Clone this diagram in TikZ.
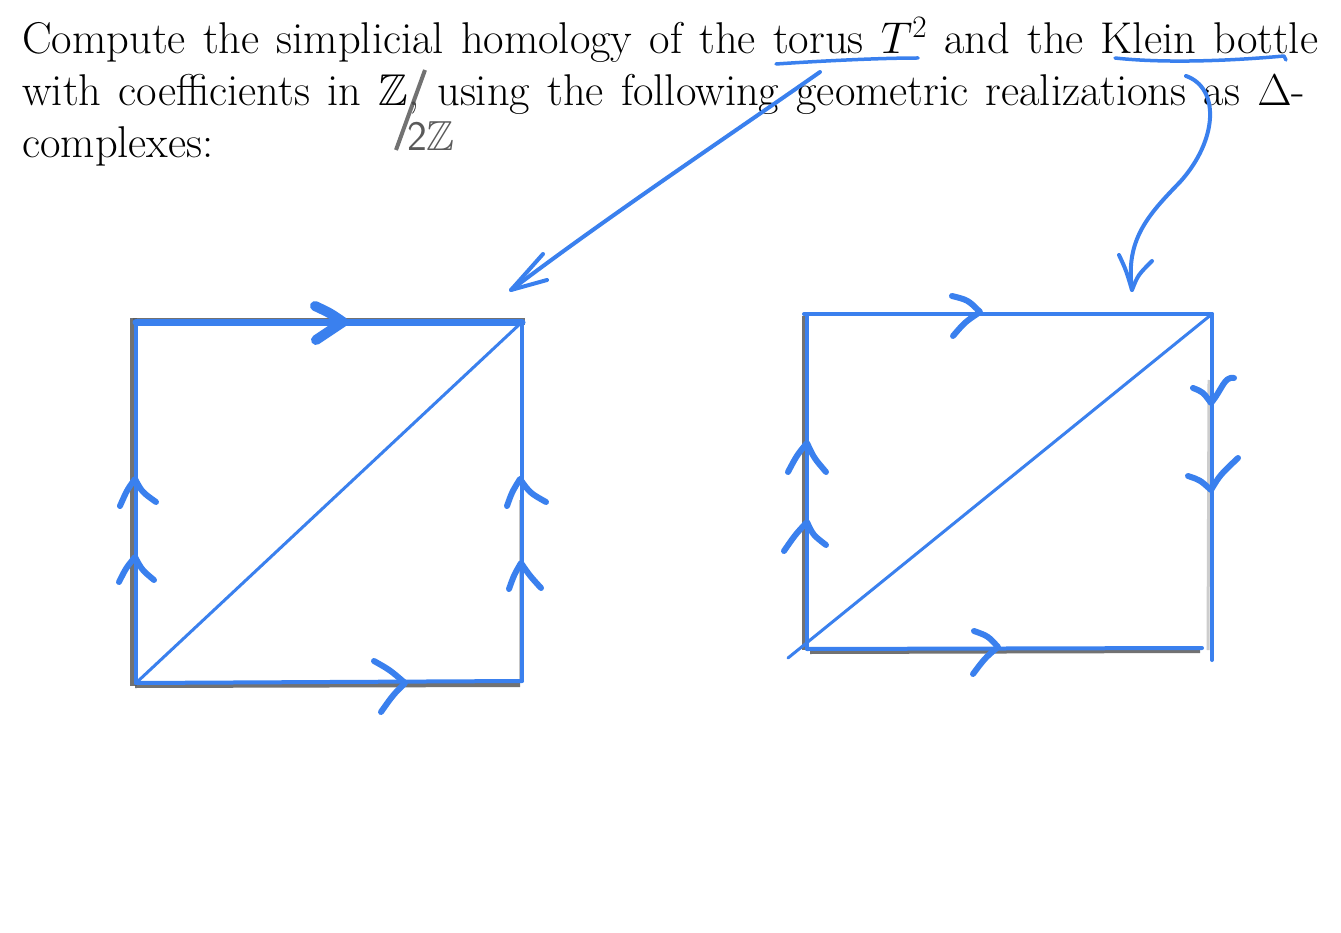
\RequirePackage{fix-cm}
\documentclass[tikz,border=0pt]{standalone}
\usepackage{amssymb}
\definecolor{pen}{RGB}{58,128,238}
\definecolor{pencil}{RGB}{90,90,90}
\tikzset{
  x=1pt,y=-1pt,
  txt/.style={anchor=base west,inner sep=0pt,font=\fontsize{44.5}{52}\selectfont},
  edge/.style={draw=pen,line width=4pt,line cap=round},
  diag/.style={draw=pen,line width=3pt,line cap=round},
  head/.style={draw=pen,line width=6pt,line cap=round,line join=round},
  ink/.style={draw=pen,line width=4pt,line cap=round,line join=round},
  graph/.style={draw=pencil,line width=7pt,opacity=0.85},
}
\begin{document}
\begin{tikzpicture}
\useasboundingbox[fill=white] (0,0) rectangle (1341,933);
% text
\node[txt] (l1) at (22,54) {\makebox[1296pt][s]{Compute the simplicial homology of the torus $T^2$ and the Klein bottle}};
\node[txt] (l2) at (22,106) {\makebox[1283pt][s]{with coefficients in $\mathbb{Z}$, using the following geometric realizations as $\Delta$-}};
\node[txt] (l3) at (22,158) {complexes:};
% handwritten /2Z
\coordinate (s1) at (425,70);
\coordinate (s2) at (396,150);
\draw[draw=pencil,line width=4pt,opacity=0.85] (s1) -- (s2);
\node[anchor=base west,inner sep=0pt,text=pencil,font=\fontsize{42}{42}\selectfont\sffamily] (zz) at (407,151) {2$\mathbb{Z}$};
% torus
\coordinate (ta) at (136,322);
\coordinate (tb) at (522,322);
\coordinate (tc) at (136,683);
\coordinate (td) at (522,681);
\draw[graph] (133,318) -- (133,686);
\draw[graph] (133,321) -- (525,321);
\draw[graph,line width=6pt] (135,685) -- (520,684);
\draw[graph,line width=3pt,opacity=0.35] (520,500) -- (520,680);
\draw[edge,line width=7pt] (ta) -- (tb);
\draw[edge] (ta) -- (tc);
\draw[edge] (tc) -- (td);
\draw[edge] (tb) -- (td);
\draw[diag] (tc) -- (tb);
\draw[head,line width=10pt] (315,306) .. controls (330,313) .. (343,322) .. controls (330,331) .. (316,340);
\draw[head] (374,661) .. controls (390,670) .. (405,683) .. controls (393,695) .. (381,712);
\draw[head] (120,506) .. controls (127,490) .. (135,479) .. controls (142,492) .. (156,502);
\draw[head] (119,582) .. controls (126,568) .. (135,557) .. controls (142,570) .. (154,580);
\draw[head] (507,506) .. controls (512,492) .. (520,479) .. controls (530,493) .. (546,502);
\draw[head] (509,589) .. controls (514,575) .. (521,563) .. controls (530,576) .. (541,588);
% klein bottle
\coordinate (ka) at (804,314);
\coordinate (kb) at (1212,314);
\coordinate (kc) at (807,649);
\coordinate (kd) at (1202,648);
\coordinate (ke) at (1212,660);
\coordinate (kf) at (788,658);
\draw[graph] (805,316) -- (805,650);
\draw[graph,line width=6pt] (810,651) -- (1200,650);
\draw[graph,line width=3pt,opacity=0.3] (1209,380) -- (1208,650);
\draw[edge] (ka) -- (kb);
\draw[edge] (807,314) -- (kc);
\draw[edge] (kc) -- (kd);
\draw[edge] (kb) -- (ke);
\draw[diag] (kf) -- (kb);
\draw[head] (952,296) .. controls (968,300) .. (980,312) .. controls (965,322) .. (953,336);
\draw[head] (974,631) .. controls (988,636) .. (998,647) .. controls (985,658) .. (973,674);
\draw[head] (788,472) .. controls (797,455) .. (807,443) .. controls (814,458) .. (826,472);
\draw[head] (784,551) .. controls (795,535) .. (807,522) .. controls (813,535) .. (826,545);
\draw[head] (1193,388) .. controls (1203,392) .. (1211,403) .. controls (1222,390) and (1224,376) .. (1234,378);
\draw[head] (1188,476) .. controls (1200,480) .. (1211,490) .. controls (1220,475) .. (1238,458);
% annotations
\coordinate (u1) at (776,64);
\coordinate (u2) at (918,58);
\draw[ink,line width=3.5pt] (u1) .. controls (820,61) and (880,58) .. (u2);
\coordinate (a1) at (820,72);
\coordinate (a2) at (511,290);
\draw[ink] (a1) .. controls (730,135) and (610,215) .. (a2);
\draw[ink] (543,254) -- (a2) -- (547,280);
\coordinate (v1) at (1115,58);
\coordinate (v2) at (1284,56);
\draw[ink,line width=3.5pt] (v1) .. controls (1170,64) and (1240,60) .. (v2) -- (1286,60);
\coordinate (b1) at (1186,76);
\coordinate (b2) at (1132,290);
\draw[ink] (b1) .. controls (1220,88) and (1218,140) .. (1180,182) .. controls (1148,215) and (1125,240) .. (b2);
\draw[ink] (1119,255) .. controls (1126,270) .. (b2) .. controls (1138,275) .. (1152,261);
\end{tikzpicture}
\end{document}
